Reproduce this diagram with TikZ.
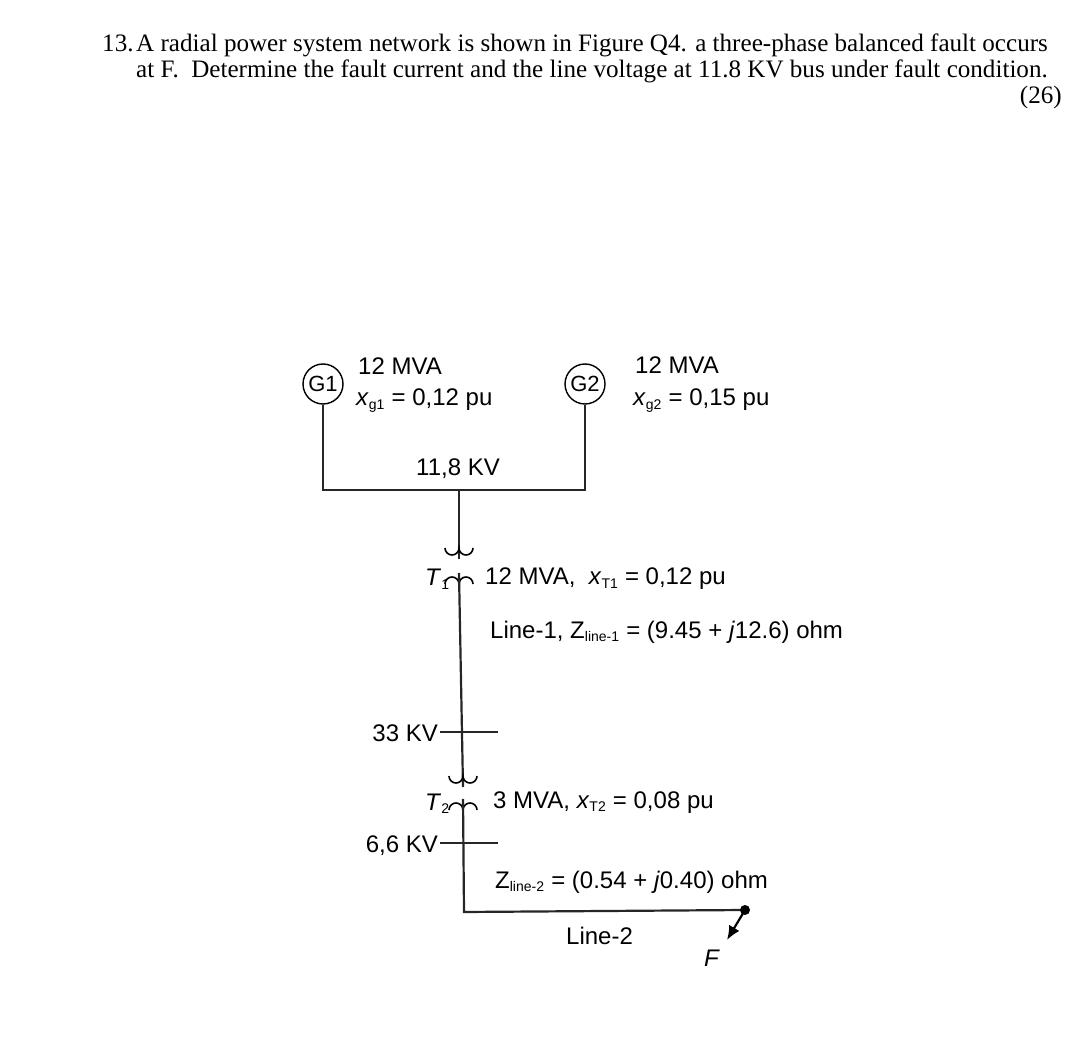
\documentclass[tikz,border=0pt]{standalone}
\usepackage{fontspec}
\usetikzlibrary{arrows.meta}
\setmainfont{Liberation Serif}
\newfontfamily\dsans{Liberation Sans}
\tikzset{
  wire/.style={line width=2.2pt,black!85},
  coil/.style={line width=1.6pt},
  q/.style={anchor=base west,inner sep=0pt,font=\fontsize{25.1}{27}\selectfont},
  lab/.style={anchor=base west,inner sep=0pt,font=\dsans\fontsize{24}{25}\selectfont},
  gen/.style={circle,draw,line width=1.4pt,minimum size=40pt,inner sep=0pt,font=\dsans\fontsize{22}{22}\selectfont}
}
\newcommand{\sbs}[1]{\textsubscript{\fontsize{14}{14}\selectfont #1}}
\begin{document}
\begin{tikzpicture}[x=1pt,y=-1pt]
\useasboundingbox (0,0) rectangle (1080,1040);
% question
\node[q] (n13) at (102,52) {13.};
\node[q] (l1) at (136,52) {A radial power system network is shown in Figure Q4. a three-phase balanced fault occurs};
\node[q] (l2) at (136,78) {at F.\ \ Determine the fault current and the line voltage at 11.8 KV bus under fault condition.};
\node[q,anchor=base east] (pts) at (1062,104) {(26)};
% generators
\node[gen] (g1) at (323,384) {G1};
\node[gen] (g2) at (585,384) {G2};
\node[lab] (g1a) at (358,375) {12 MVA};
\node[lab] (g1b) at (356,406) {\textit{x}\sbs{g1} = 0,12 pu};
\node[lab] (g2a) at (635,374) {12 MVA};
\node[lab] (g2b) at (633,406) {\textit{x}\sbs{g2} = 0,15 pu};
\coordinate (b1) at (323,490);
\coordinate (b2) at (585,490);
\coordinate (bt) at (459,490);
\draw[wire] (g1) -- (b1) -- (b2) -- (g2);
\node[lab] (kv11) at (416,476) {11,8 KV};
% T1
\coordinate (t1u) at (459,559);
\draw[wire] (bt) -- (t1u);
\draw[coil] (445,548) arc[start angle=180,end angle=0,radius=7] arc[start angle=180,end angle=0,radius=7];
\draw[coil] (445,584) arc[start angle=180,end angle=360,radius=7] arc[start angle=180,end angle=360,radius=7];
\node[lab] (t1) at (425,586) {\textit{T}\sbs{1}};
\node[lab] (t1d2) at (485,585) {12 MVA,\ \ \textit{x}\sbs{T1} = 0,12 pu};
% line to T2
\coordinate (t2u) at (463,787);
\draw[wire] (459,573) -- (t2u);
\node[lab] (ln1) at (490,638) {Line-1, Z\sbs{line-1} = (9.45 + \textit{j}12.6) ohm};
\draw[wire] (440,732) -- (498,732);
\node[lab,anchor=base east] (kv33) at (438,741) {33 KV};
% T2
\draw[coil] (449,776) arc[start angle=180,end angle=0,radius=7] arc[start angle=180,end angle=0,radius=7];
\draw[coil] (449,810) arc[start angle=180,end angle=360,radius=7] arc[start angle=180,end angle=360,radius=7];
\node[lab] (t2) at (425,810) {\textit{T}\sbs{2}};
\node[lab] (t2d) at (493,808) {3 MVA, \textit{x}\sbs{T2} = 0,08 pu};
\draw[wire] (440,843) -- (498,843);
\node[lab,anchor=base east] (kv66) at (438,852) {6,6 KV};
\node[lab] (ln2) at (495,888) {Z\sbs{line-2} = (0.54 + \textit{j}0.40) ohm};
% line 2
\coordinate (c2) at (464,912);
\coordinate (fp) at (745,910);
\draw[wire] (463,799) -- (c2) -- (fp);
\fill (fp) circle (5);
\coordinate (fa) at (727,940);
\draw[line width=2.2pt,-{Latex[length=14pt,width=12pt]}] (fp) -- (fa);
\node[lab] (l2lab) at (566,944) {Line-2};
\node[lab,font=\dsans\itshape\fontsize{24}{25}\selectfont] (F) at (704,966) {F};
\end{tikzpicture}
\end{document}
